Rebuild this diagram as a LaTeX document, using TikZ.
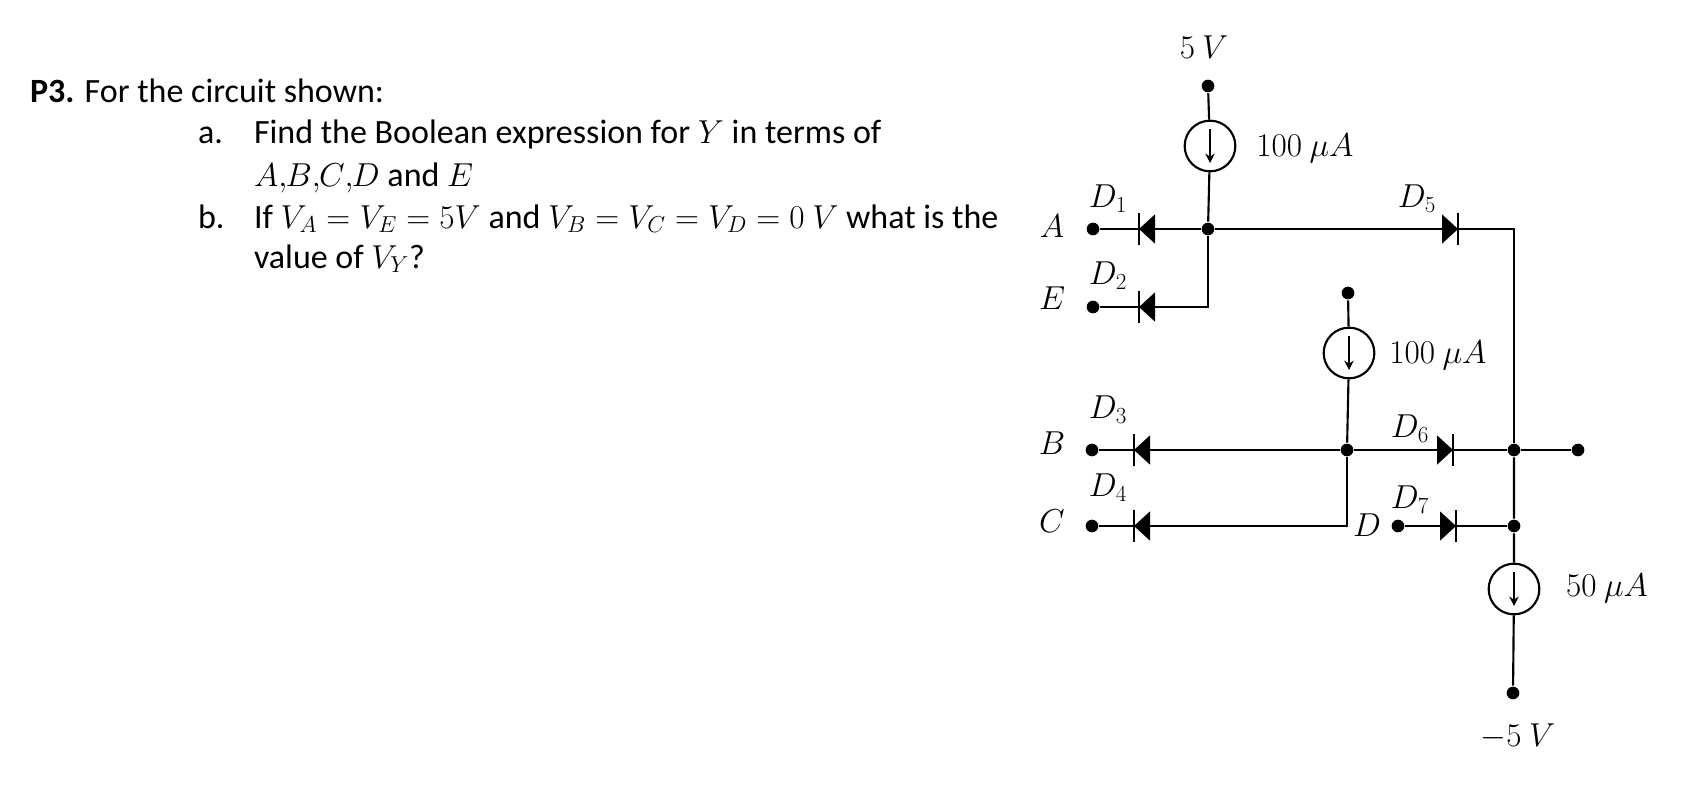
\documentclass[tikz,border=0pt]{standalone}
\usepackage{fontspec}
\setmainfont{Carlito}
\usetikzlibrary{shapes.geometric,arrows.meta}
\begin{document}
\begin{tikzpicture}[x=0.75pt,y=-0.75pt,
			line width=1.6pt,
			dot/.style = {shape=circle, fill=black, inner sep=0pt, minimum size=9.5pt},
			source/.style = {shape=circle, draw, inner sep=0pt, minimum size=38pt},
			diode/.style = {shape=isosceles triangle, isosceles triangle stretches, fill=black, inner sep=0pt, outer sep=0pt, minimum width=22pt, minimum height=12pt, anchor=apex},
			diodeleft/.style = {diode, shape border rotate=180},
			dioderight/.style = {diode, shape border rotate=0},
			txt/.style = {anchor=base west, inner sep=0pt, font=\fontsize{25.5}{30}\selectfont},
			lab/.style = {inner sep=0pt, font=\fontsize{23}{28}\selectfont},
			val/.style = {inner sep=0pt, font=\fontsize{25}{30}\selectfont}]
			\useasboundingbox (0,0) rectangle (1694,806);
			
			% question text
			\node[txt] (line1) at (29,103) {\textbf{P3.} For the circuit shown:};
			\node[txt] (itema) at (197,144) {a.};
			\node[txt] (line2) at (253,144) {Find the Boolean expression for $Y$ in terms of};
			\node[txt] (line3) at (253,186) {$A{,}\mkern-1mu B{,}\mkern-1mu C{,}\mkern-1mu D$ and $E$};
			\node[txt] (itemb) at (197,228) {b.};
			\node[txt] (line4) at (253,228) {If $V_A=V_E=5V$ and $V_B=V_C=V_D=0\ V$ what is the};
			\node[txt] (line5) at (253,268) {value of $V_Y$?};
			
			% terminals and junctions
			\node[dot] (vcc) at (1208,86) {};
			\node[dot] (vtop) at (1348,293) {};
			\node[dot] (vee) at (1513,693) {};
			\node[dot] (a) at (1093,229) {};
			\node[dot] (e) at (1093,307) {};
			\node[dot] (b) at (1092,450) {};
			\node[dot] (c) at (1092,526) {};
			\node[dot] (d) at (1398,526) {};
			\node[dot] (y) at (1578,450) {};
			\node[dot] (j1) at (1208,229) {};
			\node[dot] (j2) at (1347,450) {};
			\node[dot] (j3) at (1514,450) {};
			\node[dot] (j4) at (1514,526) {};
			
			% current sources
			\node[source] (s1) at (1210,146) {};
			\node[source] (s2) at (1349,353) {};
			\node[source] (s3) at (1514,589) {};
			
			% diodes
			\node[diodeleft] (d1) at (1139,229) {};
			\node[diodeleft] (d2) at (1139,307) {};
			\node[diodeleft] (d3) at (1134,450) {};
			\node[diodeleft] (d4) at (1134,526) {};
			\node[dioderight] (d5) at (1458,229) {};
			\node[dioderight] (d6) at (1453,450) {};
			\node[dioderight] (d7) at (1456,526) {};
			\foreach \n in {d1,d2,d3,d4,d5,d6,d7}
				\draw (\n.apex) +(0,-16) -- +(0,16);
			
			% wires
			\draw (vcc) -- (s1) -- (j1);
			\draw (a) -- (d1) -- (j1) -- (d5) -| (j3);
			\draw (j1) |- (d2) -- (e);
			\draw (vtop) -- (s2) -- (j2);
			\draw (b) -- (d3) -- (j2) -- (d6) -- (j3) -- (y);
			\draw (j2) |- (d4) -- (c);
			\draw (d) -- (d7) -- (j4);
			\draw (j3) -- (j4) -- (s3) -- (vee);
			
			% arrows in the sources
			\foreach \n in {s1,s2,s3}
				\draw[-{Stealth[length=7pt,width=7pt]}, line width=1.2pt] (\n) +(0,-17) -- +(0,17);
			
			% labels
			\node[lab] (l5v) at (1204,47) {$5\ V$};
			\node[val] (l100a) at (1305,148) {$100\ \mu A$};
			\node[val] (l100b) at (1438,355) {$100\ \mu A$};
			\node[val] (l50) at (1607,588) {$50\ \mu A$};
			\node[val] (lm5v) at (1518,737) {$-5\ V$};
			\node[lab] (la) at (1052,226) {$A$};
			\node[lab] (le) at (1052,298) {$E$};
			\node[lab] (lb) at (1052,443) {$B$};
			\node[lab] (lc) at (1052,521) {$C$};
			\node[lab] (ld) at (1367,525) {$D$};
			\node[lab] (ld1) at (1108,199) {$D_1$};
			\node[lab] (ld2) at (1108,276) {$D_2$};
			\node[lab] (ld3) at (1108,410) {$D_3$};
			\node[lab] (ld4) at (1108,488) {$D_4$};
			\node[lab] (ld5) at (1417,199) {$D_5$};
			\node[lab] (ld6) at (1410,429) {$D_6$};
			\node[lab] (ld7) at (1410,500) {$D_7$};
			\end{tikzpicture}
\end{document}
